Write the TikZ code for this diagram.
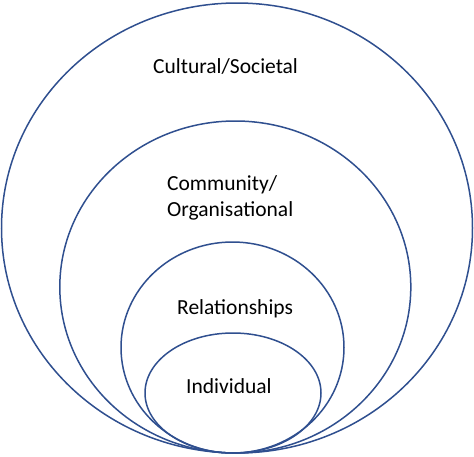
\documentclass[tikz,border=0pt]{standalone}
\usepackage{fontspec}
\setmainfont{Carlito}
\usetikzlibrary{shapes.geometric}

\definecolor{ringblue}{RGB}{47,79,143}

\tikzset{
  ring/.style={draw=ringblue, line width=1.5pt, ellipse, inner sep=0pt},
  layer/.style={inner sep=0pt, anchor=base west, align=left, font=\fontsize{21.5}{26.7}\selectfont}
}

\begin{document}
\begin{tikzpicture}[x=1pt, y=-1pt]
\useasboundingbox (0,0) rectangle (474,456);

% nested levels, all touching at the bottom
\node[ring, minimum width=471pt, minimum height=450pt] (cultural) at (237,228) {};
\node[ring, minimum width=351pt, minimum height=332pt] (community) at (235.3,287) {};
\node[ring, minimum width=223pt, minimum height=211pt] (relations) at (232.5,347.5) {};
\node[ring, minimum width=176pt, minimum height=120pt] (individual) at (233,393) {};

% labels
\node[layer] (culturaltxt) at (153,73.3) {Cultural/Societal};
\node[layer] (communitytxt) at (167,216.7) {Community/\\Organisational};
\node[layer] (relationstxt) at (177,314.3) {Relationships};
\node[layer] (individualtxt) at (186,393.3) {Individual};
\end{tikzpicture}
\end{document}
